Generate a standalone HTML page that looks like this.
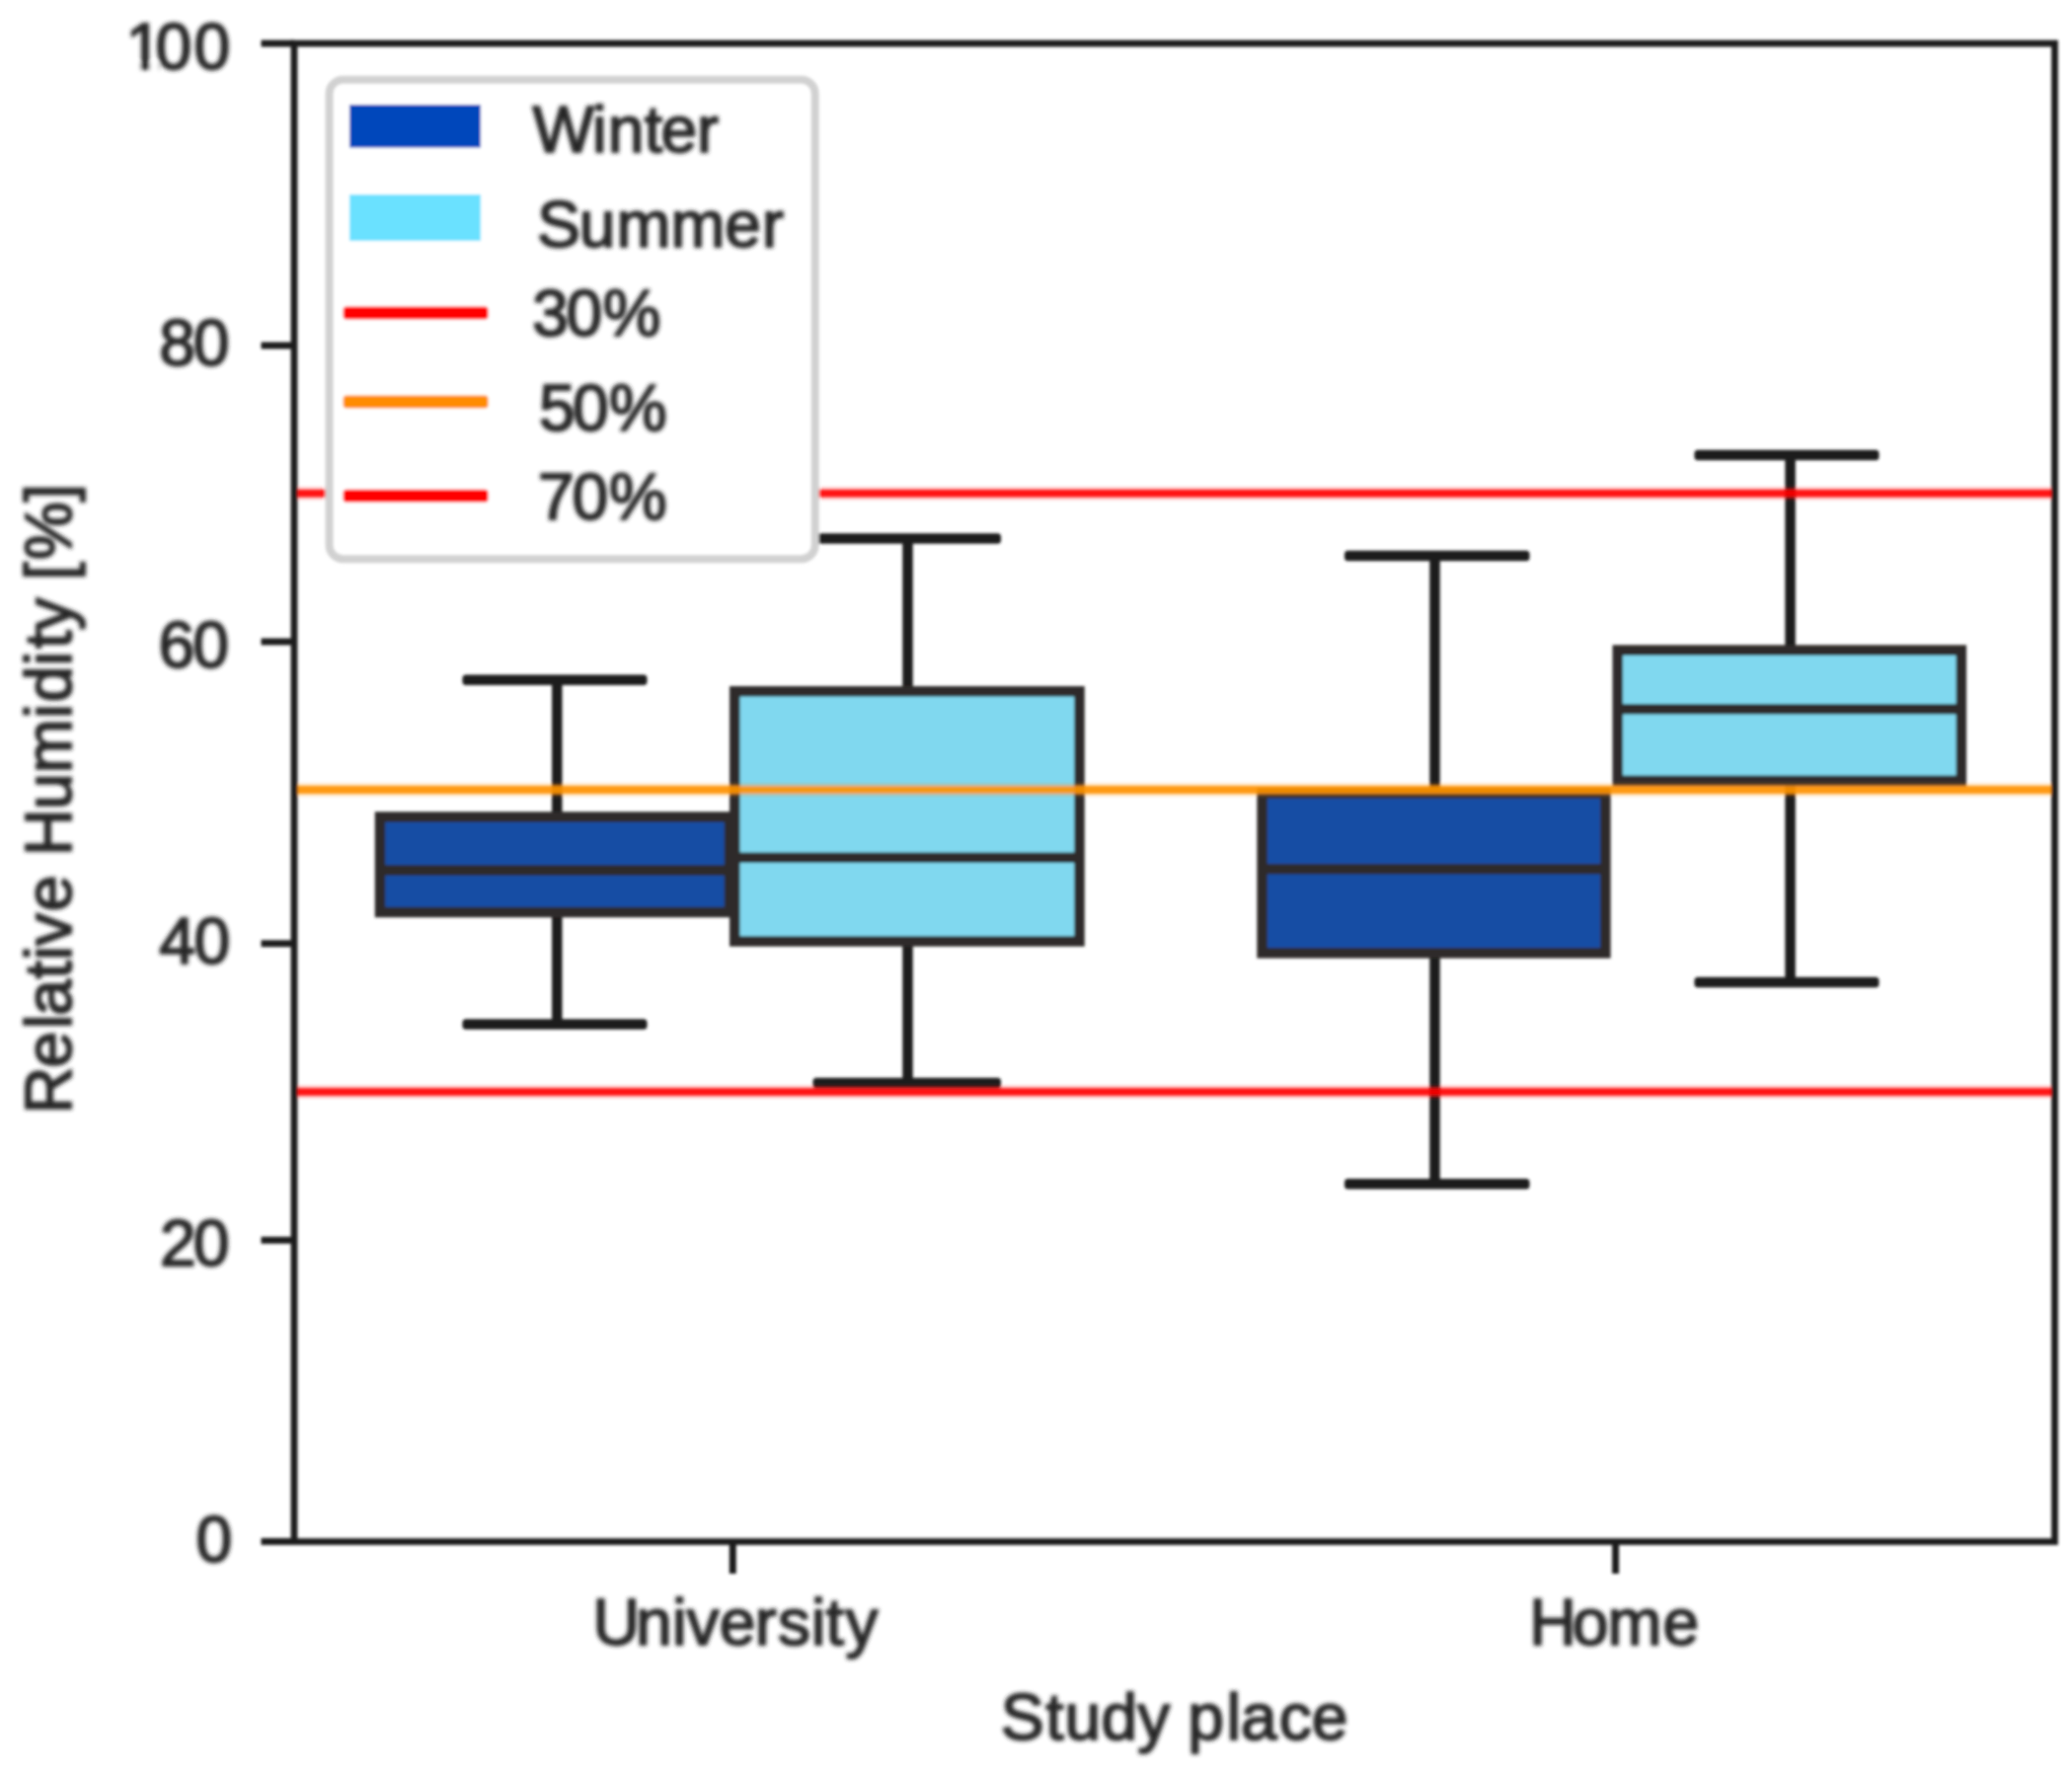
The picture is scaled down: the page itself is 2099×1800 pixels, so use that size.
<!DOCTYPE html>
<html><head><meta charset="utf-8"><title>Relative Humidity by study place</title>
<style>
html,body{margin:0;padding:0;background:#ffffff;}
body{width:2099px;height:1800px;overflow:hidden;}
svg{display:block;}
text{font-family:"Liberation Sans",Arial,Helvetica,sans-serif;font-size:66px;fill:#262626;stroke:#262626;stroke-width:2.0px;stroke-linejoin:round;}
</style></head><body>
<svg width="2099" height="1800" viewBox="0 0 2099 1800">
<defs><filter id="b" x="-2%" y="-2%" width="104%" height="104%"><feGaussianBlur stdDeviation="1.8"/></filter><filter id="t" x="-2%" y="-2%" width="104%" height="104%"><feGaussianBlur stdDeviation="2.3"/></filter></defs>
<rect x="0" y="0" width="2099" height="1800" fill="#ffffff"/>
<g filter="url(#b)">
<line x1="564.3" y1="688.8" x2="564.3" y2="827.5" stroke="#1c1c1c" stroke-width="10.5"/>
<line x1="564.3" y1="924" x2="564.3" y2="1037.4" stroke="#1c1c1c" stroke-width="10.5"/>
<rect x="468.5" y="683.55" width="187.0" height="10.5" rx="3.5" ry="3.5" fill="#1c1c1c"/>
<rect x="468.5" y="1032.15" width="187.0" height="10.5" rx="3.5" ry="3.5" fill="#1c1c1c"/>
<rect x="385" y="827.5" width="354" height="96.5" fill="#174DA4" stroke="#2e2b29" stroke-width="10.5"/>
<line x1="385" y1="881.5" x2="739" y2="881.5" stroke="#2e2b29" stroke-width="10.5"/>
<line x1="919.5" y1="545.5" x2="919.5" y2="700.3" stroke="#1c1c1c" stroke-width="10.5"/>
<line x1="919.5" y1="953.5" x2="919.5" y2="1097" stroke="#1c1c1c" stroke-width="10.5"/>
<rect x="823.5" y="540.25" width="190.5" height="10.5" rx="3.5" ry="3.5" fill="#1c1c1c"/>
<rect x="823.5" y="1091.75" width="190.5" height="10.5" rx="3.5" ry="3.5" fill="#1c1c1c"/>
<rect x="744.3" y="700.3" width="349.2" height="253.2" fill="#80D8EF" stroke="#2e2b29" stroke-width="10.5"/>
<line x1="744.3" y1="868.8" x2="1093.5" y2="868.8" stroke="#2e2b29" stroke-width="10.5"/>
<line x1="1453.5" y1="563" x2="1453.5" y2="803.5" stroke="#1c1c1c" stroke-width="10.5"/>
<line x1="1453.5" y1="965.4" x2="1453.5" y2="1199.2" stroke="#1c1c1c" stroke-width="10.5"/>
<rect x="1362" y="557.75" width="187.5" height="10.5" rx="3.5" ry="3.5" fill="#1c1c1c"/>
<rect x="1362" y="1193.95" width="187.5" height="10.5" rx="3.5" ry="3.5" fill="#1c1c1c"/>
<rect x="1278.6" y="803.5" width="347.8" height="161.9" fill="#174DA4" stroke="#2e2b29" stroke-width="10.5"/>
<line x1="1278.6" y1="880.3" x2="1626.4" y2="880.3" stroke="#2e2b29" stroke-width="10.5"/>
<line x1="1813.6" y1="461" x2="1813.6" y2="658.6" stroke="#1c1c1c" stroke-width="10.5"/>
<line x1="1813.6" y1="790.8" x2="1813.6" y2="994.9" stroke="#1c1c1c" stroke-width="10.5"/>
<rect x="1716.5" y="455.75" width="187.0" height="10.5" rx="3.5" ry="3.5" fill="#1c1c1c"/>
<rect x="1716.5" y="989.65" width="187.0" height="10.5" rx="3.5" ry="3.5" fill="#1c1c1c"/>
<rect x="1638.8" y="658.6" width="348.0" height="132.2" fill="#80D8EF" stroke="#2e2b29" stroke-width="10.5"/>
<line x1="1638.8" y1="718.3" x2="1986.8" y2="718.3" stroke="#2e2b29" stroke-width="10.5"/>
<line x1="298" y1="499.8" x2="2081.5" y2="499.8" stroke="#ff0000" stroke-opacity="0.2" stroke-width="13.4"/>
<line x1="298" y1="499.8" x2="2081.5" y2="499.8" stroke="#ff0000" stroke-opacity="0.9" stroke-width="7.4"/>
<line x1="298" y1="800" x2="2081.5" y2="800" stroke="#ff9200" stroke-opacity="0.2" stroke-width="14"/>
<line x1="298" y1="800" x2="2081.5" y2="800" stroke="#ff9200" stroke-opacity="0.9" stroke-width="8"/>
<line x1="298" y1="1106" x2="2081.5" y2="1106" stroke="#ff0000" stroke-opacity="0.2" stroke-width="13.4"/>
<line x1="298" y1="1106" x2="2081.5" y2="1106" stroke="#ff0000" stroke-opacity="0.9" stroke-width="7.4"/>
<rect x="298" y="44" width="1783.5" height="1517.6" fill="none" stroke="#1e1e1e" stroke-width="6.8"/>
<line x1="264.5" y1="44" x2="298" y2="44" stroke="#1e1e1e" stroke-width="7"/>
<line x1="264.5" y1="350" x2="298" y2="350" stroke="#1e1e1e" stroke-width="7"/>
<line x1="264.5" y1="650" x2="298" y2="650" stroke="#1e1e1e" stroke-width="7"/>
<line x1="264.5" y1="955.8" x2="298" y2="955.8" stroke="#1e1e1e" stroke-width="7"/>
<line x1="264.5" y1="1256.2" x2="298" y2="1256.2" stroke="#1e1e1e" stroke-width="7"/>
<line x1="264.5" y1="1561.6" x2="298" y2="1561.6" stroke="#1e1e1e" stroke-width="7"/>
<line x1="742.3" y1="1561.6" x2="742.3" y2="1594" stroke="#1e1e1e" stroke-width="7"/>
<line x1="1636.6" y1="1561.6" x2="1636.6" y2="1594" stroke="#1e1e1e" stroke-width="7"/>
<rect x="333.6" y="80.7" width="492.1" height="485.6" rx="14" ry="14" fill="#ffffff" stroke="#d1d1d1" stroke-width="8"/>
<rect x="354" y="106" width="133" height="43.5" fill="#0047BB"/>
<rect x="354" y="197" width="133" height="47" fill="#6BE1FF"/>
<rect x="347.6" y="310.5" width="147" height="13" rx="3.5" ry="3.5" fill="#ff0000"/>
<rect x="347.6" y="400.5" width="147" height="13" rx="3.5" ry="3.5" fill="#ff8c00"/>
<rect x="347.6" y="495.8" width="147" height="13" rx="3.5" ry="3.5" fill="#ff0000"/>
</g>
<g filter="url(#t)">
<text x="127.5 157.4 196.5" y="69.55">100</text>
<text x="161.2 195.7" y="369.55">80</text>
<text x="160.5 195.3" y="675.55">60</text>
<text x="161.2 196.5" y="975.5">40</text>
<text x="162.0 195.7" y="1281.85">20</text>
<text x="198.6" y="1581.75">0</text>
<rect x="129.5" y="63.349999999999994" width="12.8" height="10" fill="#ffffff"/>
<rect x="151.7" y="63.349999999999994" width="9.2" height="10" fill="#ffffff"/>
<text x="600.6 644.1 681.0 695.4 728.8 764.8 788.1 821.7 836.4 856.6" y="1665.7">University</text>
<text x="1549.3 1592.7 1628.6 1684.5" y="1665.7">Home</text>
<text x="1013.8 1059.3 1078.4 1115.4 1152.2 1185.2 1203.3 1242.5 1257.1 1295.7 1328.8" y="1761.8">Study place</text>
<text x="71.8 118.5 157.7 171.3 208.6 227.3 241.9 276.8 313.5 333.0 380.1 416.7 472.2 488.8 525.6 543.0 561.4 594.4 612.2 633.1 691.6" y="0" transform="translate(72,1200) rotate(-90)">Relative Humidity [%]</text>
<text x="539.4 599.9 615.8 652.8 669.6 706.1" y="154">Winter</text>
<text x="543.9 586.8 624.5 679.4 734.3 772.0" y="250.2">Summer</text>
<text x="539.2 573.5 610.8" y="339.8">30%</text>
<text x="546.1 579.9 617.1" y="435.7">50%</text>
<text x="544.9 579.4 617.1" y="525.6">70%</text>
</g>
</svg>
</body></html>
